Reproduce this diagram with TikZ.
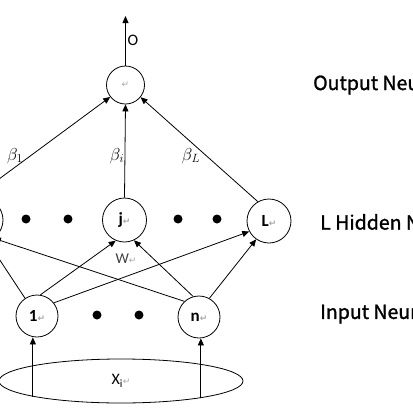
\documentclass[tikz,border=0pt]{standalone}
\usepackage{fontspec}
\setmainfont{Carlito}
\newfontfamily\lblfont[FakeBold=1.3]{Noto Sans CJK SC}
\newfontfamily\pmfont{DejaVu Sans}
\usetikzlibrary{arrows.meta,shapes.geometric}
\newcommand{\parmk}{{\pmfont\color{gray!70}\fontsize{9}{9}\selectfont ↵}}
\begin{document}
\begin{tikzpicture}[x=1pt,y=-1pt,
  neuron/.style={circle,draw,line width=0.8pt,inner sep=0pt},
  conn/.style={line width=0.8pt},
  arr/.style={conn,-{Triangle[length=7pt,width=6pt]}},
  dotm/.style={circle,fill,inner sep=0pt,minimum size=9pt},
  side/.style={anchor=west,inner sep=0pt,font=\lblfont\fontsize{19.5}{19.5}\selectfont},
  nlab/.style={font=\bfseries\fontsize{17}{17}\selectfont},
  beta/.style={font=\fontsize{17}{17}\selectfont}]
\useasboundingbox (0,0) rectangle (413,413);
\clip (0,0) rectangle (413,413);
% output layer
\node[neuron,minimum size=38pt] (out) at (125.5,85) {\parmk};
\coordinate (top) at (125.5,16);
\draw[arr] (out.north) -- (top);
\node[font=\fontsize{16}{16}\selectfont] (olab) at (133,40) {O};
% hidden layer
\node[neuron,minimum size=44pt] (hA) at (-19,220) {};
\node[neuron,minimum size=44pt,nlab] (hj) at (124.5,220) {j\parmk};
\node[neuron,minimum size=44pt,nlab] (hL) at (269,221) {L\parmk};
\node[dotm] (d1) at (26,219) {};
\node[dotm] (d2) at (68,219) {};
\node[dotm] (d3) at (178,219) {};
\node[dotm] (d4) at (217,219) {};
\draw[arr] (hA.120) -- (out.218);
\draw[arr] (hj.north) -- (out.south);
\draw[arr] (hL.120) -- (out.-39);
\node[beta] (b1) at (15,156) {$\beta_1$};
\node[beta] (bi) at (117,156) {$\beta_i$};
\node[beta] (bL) at (191,156) {$\beta_L$};
% input layer
\node[neuron,minimum size=42pt,nlab] (i1) at (37,316) {1\parmk};
\node[neuron,minimum size=42pt,nlab] (in) at (199,317) {n\parmk};
\node[dotm] (d5) at (97,315) {};
\node[dotm] (d6) at (139,315) {};
\draw[arr] (i1.124) -- (hA.287);
\draw[arr] (i1.81) -- (hj.247);
\draw[arr] (i1.38) -- (hL.208);
\draw[arr] (in.133) -- (hA.305);
\draw[arr] (in.106) -- (hj.295);
\draw[arr] (in.61) -- (hL.235);
\node[font=\fontsize{15}{15}\selectfont,text=black!75] (w) at (126,259) {W\parmk};
% input ellipse
\node[ellipse,draw,line width=0.8pt,minimum width=244pt,minimum height=44pt,inner sep=0pt,font=\fontsize{16}{16}\selectfont] (X) at (121,381) {X\textsubscript{i}\parmk};
\draw[arr] (X.190.2) -- (X.190.2 |- i1.south);
\draw[arr] (X.-12.5) -- (X.-12.5 |- in.south);
% side labels
\node[side] (lo) at (313,85) {Output Neu};
\node[side] (lh) at (320,222) {L Hidden N};
\node[side] (li) at (320,314) {Input Neur};
\end{tikzpicture}
\end{document}
